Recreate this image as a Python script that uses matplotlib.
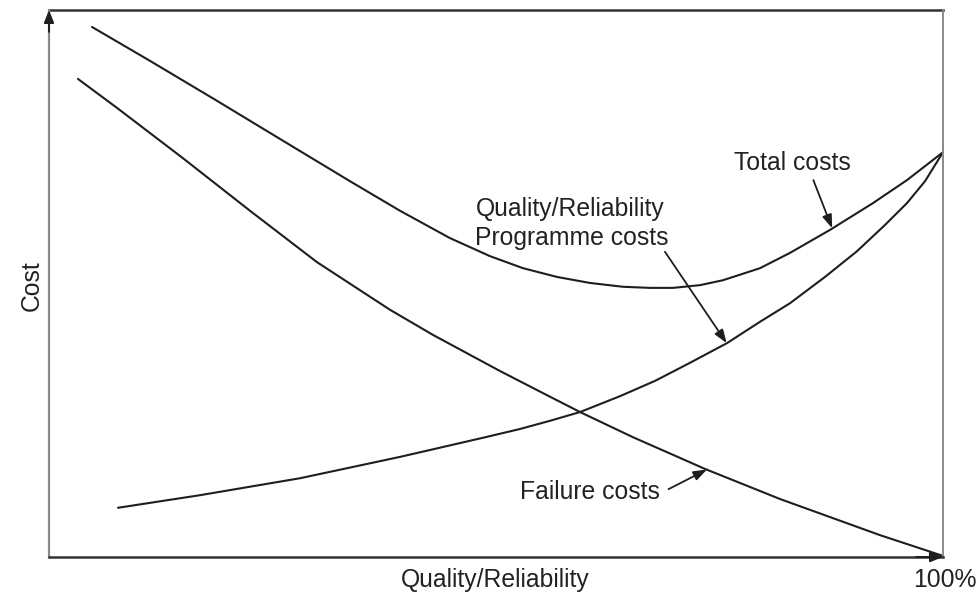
import matplotlib
matplotlib.use("Agg")
import matplotlib.pyplot as plt

# data (x: quality/reliability 0..100 %, y: cost, arbitrary 0..100)
total_x = [4.81, 11.30, 18.79, 26.17, 33.67, 39.26, 44.85, 49.33, 53.02, 56.82, 60.51,
           64.21, 67.23, 69.80, 72.82, 75.39, 79.53, 82.89, 87.36, 92.17, 95.97, 100]
total_y = [96.9, 90.7, 83.4, 76.1, 68.7, 63.3, 58.3, 55.0, 52.8, 51.2, 50.1,
           49.4, 49.2, 49.2, 49.7, 50.6, 52.8, 55.6, 59.8, 64.7, 68.9, 74.0]

prog_x = [7.72, 16.89, 28.08, 39.26, 48.55, 52.68, 56.04, 59.40, 63.87, 67.79, 71.70,
          75.84, 79.53, 82.89, 86.80, 90.38, 93.51, 95.97, 97.99, 100]
prog_y = [9.0, 11.3, 14.4, 18.3, 21.8, 23.4, 24.9, 26.5, 29.4, 32.2, 35.5,
          39.1, 43.0, 46.4, 51.2, 55.9, 60.7, 64.7, 68.7, 74.0]

fail_x = [3.24, 7.61, 14.99, 22.48, 29.98, 38.14, 42.95, 50.45, 56.04, 59.40,
          65.32, 73.38, 81.77, 92.95, 100]
fail_y = [87.4, 82.1, 72.9, 63.3, 53.9, 45.2, 40.6, 34.0, 29.3, 26.5,
          21.9, 16.1, 10.6, 4.0, 0.2]

labels = ["Total costs", "Quality/Reliability\nProgramme costs", "Failure costs"]
x_label = "Quality/Reliability"
y_label = "Cost"
end_label = "100%"

W, H = 980, 608
fig = plt.figure(figsize=(W / 100, H / 100), dpi=100)
plt.rcParams['font.family'] = ['Liberation Sans', 'DejaVu Sans']

L, R, T, B = 49, 943, 10, 557
ax = fig.add_axes([L / W, 1 - B / H, (R - L) / W, (B - T) / H])
ax.set_xlim(0, 100)
ax.set_ylim(0, 100)
ax.set_xticks([])
ax.set_yticks([])
for s in ax.spines.values():
    s.set_visible(False)

lc = '#1e1e1e'
lw = 1.5
for xs, ys in [(total_x, total_y), (prog_x, prog_y), (fail_x, fail_y)]:
    ax.plot(xs, ys, color=lc, lw=lw, solid_joinstyle='round', solid_capstyle='round',
            antialiased=True, clip_on=False)

# frame
ax.plot([0, 100], [100, 100], color='#333333', lw=1.8, clip_on=False)
ax.plot([100, 100], [0, 100], color='#8a8a8a', lw=1.4, clip_on=False)
ax.plot([0, 0], [0, 100], color='#8a8a8a', lw=1.6, clip_on=False)
ax.plot([0, 100], [0, 0], color='#333333', lw=1.8, clip_on=False)
head = dict(arrowstyle='-|>,head_length=0.5,head_width=0.2', color='#1e1e1e', lw=1.4,
            mutation_scale=15, shrinkA=0, shrinkB=0)
ax.annotate('', xy=(0, 100), xytext=(0, 96), arrowprops=head, annotation_clip=False)
ax.annotate('', xy=(100, 0), xytext=(97, 0), arrowprops=head, annotation_clip=False)

fs = 17.8
tc = '#222222'
ap = dict(arrowstyle='-|>,head_length=0.5,head_width=0.18', color=lc, lw=1.3,
          mutation_scale=16, shrinkA=0, shrinkB=0)

ax.text(83.1, 72.0, labels[0], ha='center', va='center', fontsize=fs, color=tc)
ax.annotate('', xy=(87.6, 60.1), xytext=(85.5, 68.9), arrowprops=ap)

ax.text(47.7, 65.8, labels[1], ha='left', va='top', fontsize=fs, color=tc, linespacing=1.25)
ax.annotate('', xy=(75.8, 39.1), xytext=(68.9, 55.8), arrowprops=ap)

ax.text(52.7, 11.9, labels[2], ha='left', va='center', fontsize=fs, color=tc)
ax.annotate('', xy=(73.6, 16.0), xytext=(69.3, 12.4), arrowprops=ap)

fig.text(32 / W, 1 - 286 / H, y_label, rotation=90, ha='center', va='center', fontsize=fs, color=tc)
fig.text(495 / W, 1 - 580 / H, x_label, ha='center', va='center', fontsize=fs, color=tc)
fig.text(945 / W, 1 - 580 / H, end_label, ha='center', va='center', fontsize=fs, color=tc)

fig.savefig('out.png', dpi=100, facecolor='white')
